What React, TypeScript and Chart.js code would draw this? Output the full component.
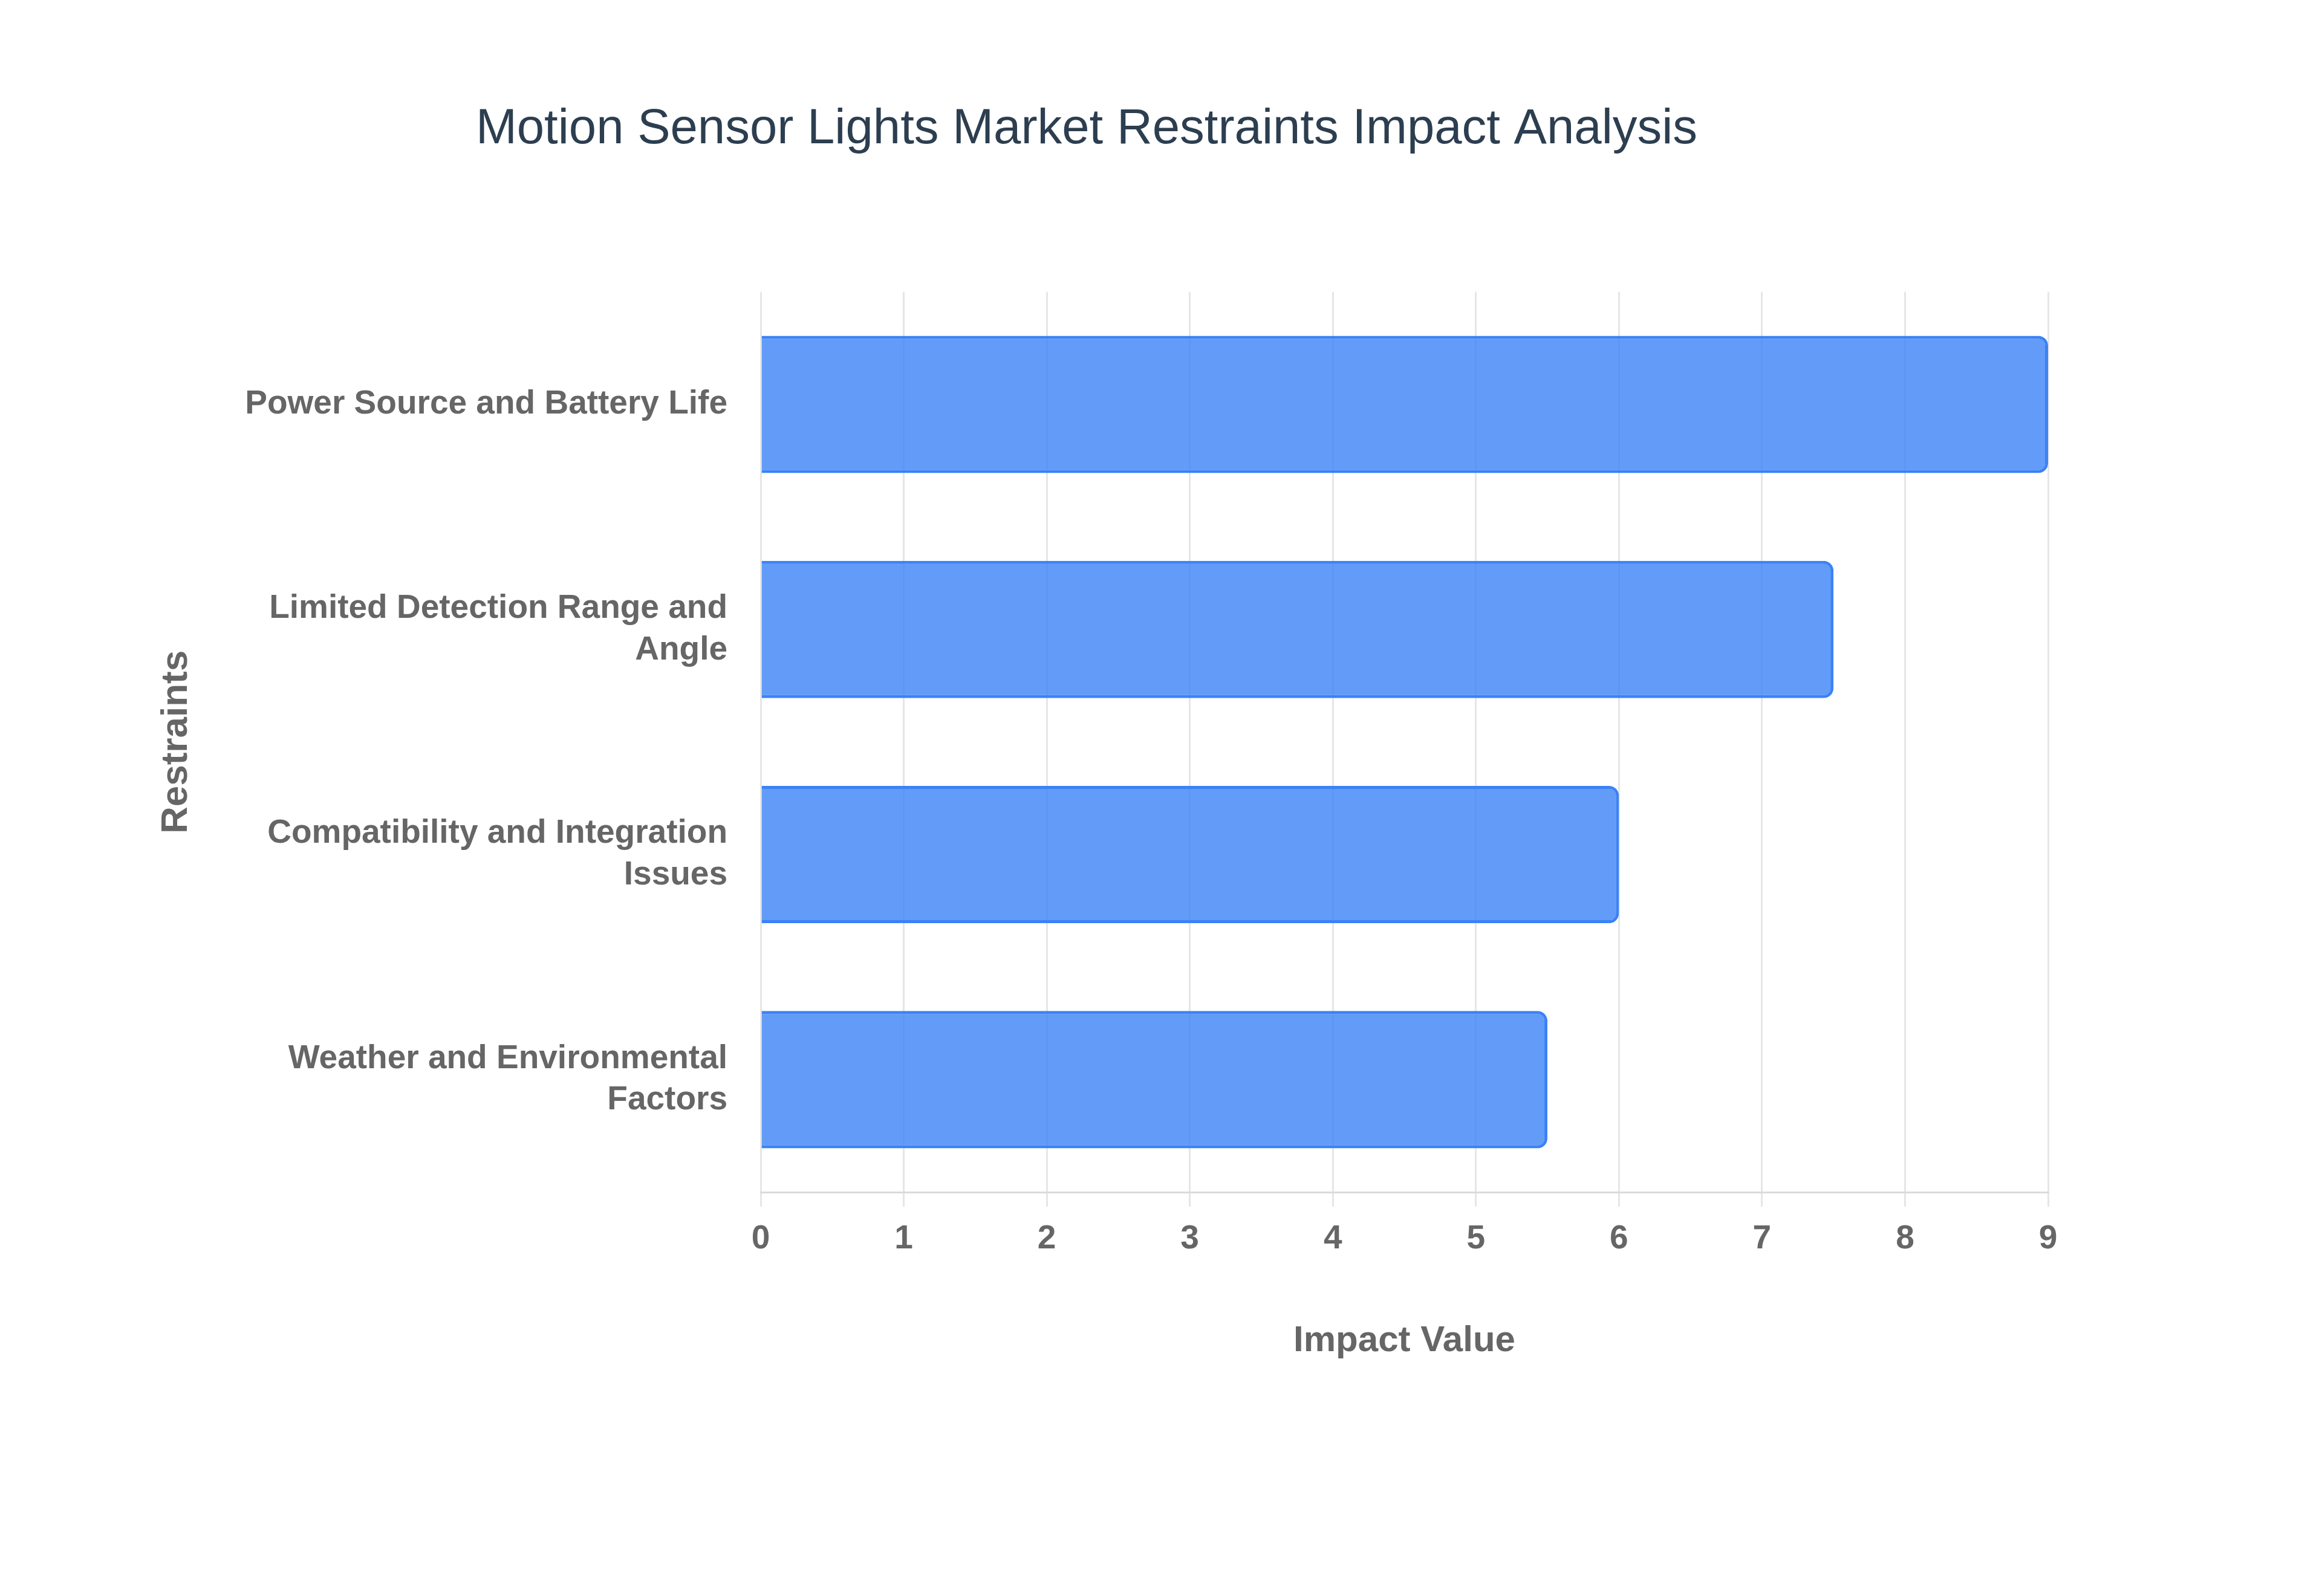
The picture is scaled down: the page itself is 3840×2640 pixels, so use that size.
import { useEffect, useRef } from "react";
import Chart from "chart.js/auto";

// restraint categories (multi-line labels)
const restraints = [
  ["Power Source and Battery Life"],
  ["Limited Detection Range and", "Angle"],
  ["Compatibility and Integration", "Issues"],
  ["Weather and Environmental", "Factors"],
];
const impactValues = [9, 7.5, 6, 5.5];
const impactMin = 0;
const impactMax = 9;
const impactStep = 1;

const FONT = "'Liberation Sans', Arial, Helvetica, sans-serif";
const GREY = "#666666";

export default function App() {
  const chartRef = useRef<HTMLCanvasElement>(null);
  const chartInstance = useRef<Chart | null>(null);

  useEffect(() => {
    if (!chartRef.current) return;
    if (chartInstance.current) {
      chartInstance.current.destroy();
    }
    const ctx = chartRef.current.getContext("2d");
    if (!ctx) return;

    chartInstance.current = new Chart(ctx, {
      type: "bar",
      data: {
        labels: restraints,
        datasets: [
          {
            label: "Impact Value",
            data: impactValues,
            backgroundColor: "rgba(59, 130, 246, 0.8)",
            borderColor: "#3b82f6",
            borderWidth: 5,
            borderRadius: 16,
            barPercentage: 0.61,
            categoryPercentage: 1,
          },
        ],
      },
      options: {
        indexAxis: "y",
        responsive: true,
        maintainAspectRatio: false,
        animation: false,
        layout: {
          padding: { left: 207, right: 453, top: 0, bottom: 0 },
        },
        plugins: {
          legend: { display: false },
          tooltip: { enabled: false },
          title: {
            display: true,
            text: "Motion Sensor Lights Market Restraints Impact Analysis",
            color: "#2c3e50",
            font: { family: FONT, size: 81.5, weight: "normal" },
            padding: { top: 166, bottom: 219 },
          },
        },
        scales: {
          x: {
            type: "linear",
            min: impactMin,
            max: impactMax,
            ticks: {
              stepSize: impactStep,
              color: GREY,
              font: { family: FONT, size: 55, weight: "bold" },
              padding: 21,
            },
            grid: {
              color: "#e6e6e6",
              lineWidth: 3,
              tickLength: 24,
            },
            border: { display: true, color: "#dadada", width: 3 },
            title: {
              display: true,
              text: "Impact Value",
              color: GREY,
              font: { family: FONT, size: 60, weight: "bold" },
              padding: { top: 0, bottom: 386 },
            },
            afterFit: (scale) => {
              scale.height = 668;
            },
          },
          y: {
            ticks: {
              color: GREY,
              font: { family: FONT, size: 55, weight: "bold", lineHeight: 1.25 },
              padding: 47,
            },
            grid: { display: false },
            border: { display: false },
            title: {
              display: true,
              text: "Restraints",
              color: GREY,
              font: { family: FONT, size: 62, weight: "bold" },
              padding: { top: 48, bottom: 0 },
            },
            afterFit: (scale) => {
              scale.width = 1051;
            },
          },
        },
      },
    });

    return () => {
      if (chartInstance.current) {
        chartInstance.current.destroy();
        chartInstance.current = null;
      }
    };
  }, []);

  return (
    <div
      style={{
        position: "absolute",
        left: 0,
        top: 0,
        width: 3840,
        height: 2640,
        background: "#ffffff",
      }}
    >
      <canvas ref={chartRef}></canvas>
    </div>
  );
}
